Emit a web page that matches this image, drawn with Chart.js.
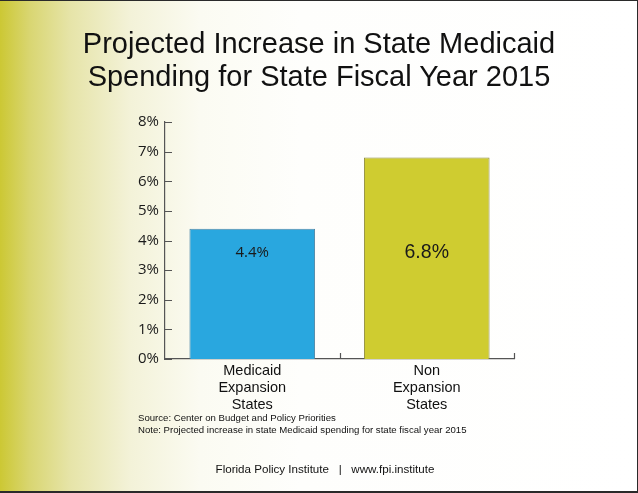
<!DOCTYPE html>
<html><head><meta charset="utf-8">
<script src="https://cdn.jsdelivr.net/npm/chart.js@4.4.1/dist/chart.umd.min.js"></script>
<style>
html,body{margin:0;padding:0;}
#wrap{position:relative;width:638px;height:493px;box-sizing:border-box;overflow:hidden;
 background:linear-gradient(to right,#ccc834 0px,#d9d672 30px,#e6e4a8 70px,#f3f2d8 130px,#fbfbf2 200px,#fefefc 300px,#ffffff 638px);
 border-top:1px solid #2a2a2a;border-right:1px solid #2a2a2a;border-bottom:2px solid #2a2a2a;}
canvas{position:absolute;left:0;top:0;}
.t{position:absolute;font-family:Arial,"Liberation Sans",sans-serif;color:#111;white-space:nowrap;}
#title{left:0;width:638px;top:26px;text-align:center;font-size:29px;line-height:33px;}
#src{left:138px;top:411px;font-size:9.6px;line-height:12px;color:#111;}
#foot{left:0;width:650px;top:461px;text-align:center;font-size:11.6px;color:#111;}
</style></head>
<body>
<div id="wrap">
<canvas id="c" width="638" height="493"></canvas>
<div class="t" id="title">Projected Increase in State Medicaid<br>Spending for State Fiscal Year 2015</div>
<div class="t" id="src">Source: Center on Budget and Policy Priorities<br>Note: Projected increase in state Medicaid spending for state fiscal year 2015</div>
<div class="t" id="foot">Florida Policy Institute &nbsp;&nbsp;|&nbsp;&nbsp; www.fpi.institute</div>
</div>
<script>
const categories = [["Medicaid","Expansion","States"],["Non","Expansion","States"]];
const values = [4.4, 6.8];
const valueLabels = ["4.4%", "6.8%"];
const yTicks = [0,1,2,3,4,5,6,7,8];
const barColors = ["#29a7df", "#cfcc30"];
const barBorders = ["#4f86a6", "#8d8b40"];

const AXIS = "#555555";

const inwardTicks = {
  id: "inwardTicks",
  afterDraw(chart) {
    const ctx = chart.ctx, x = chart.scales.x, y = chart.scales.y;
    ctx.save();
    ctx.strokeStyle = AXIS; ctx.lineWidth = 1.2;
    ctx.beginPath();
    yTicks.forEach(v => { const p = Math.round(y.getPixelForValue(v)) + 0.5; ctx.moveTo(x.left, p); ctx.lineTo(x.left + 7, p); });
    for (let i = 0; i < categories.length; i++) {
      const p = Math.round(x.getPixelForValue(i + 0.5)) + 0.5;
      ctx.moveTo(p, y.bottom); ctx.lineTo(p, y.bottom - 6);
    }
    ctx.stroke();
    ctx.restore();
  }
};

const barLabels = {
  id: "barLabels",
  afterDatasetsDraw(chart) {
    const ctx = chart.ctx, y = chart.scales.y;
    const meta = chart.getDatasetMeta(0);
    ctx.save();
    ctx.fillStyle = "#1a1a1a"; ctx.textAlign = "center"; ctx.textBaseline = "middle";
    meta.data.forEach((bar, i) => {
      ctx.font = i === 0 ? '15px "Open Sans", sans-serif' : '19.5px Arial, "Liberation Sans", sans-serif';
      ctx.fillText(valueLabels[i], bar.x, y.getPixelForValue(3.6));
    });
    ctx.restore();
  }
};

new Chart(document.getElementById("c"), {
  type: "bar",
  data: {
    labels: categories,
    datasets: [{
      data: values,
      backgroundColor: barColors,
      borderColor: barBorders,
      borderWidth: 1,
      barPercentage: 0.72,
      categoryPercentage: 1.0
    }]
  },
  options: {
    responsive: false,
    animation: false,
    layout: { padding: { top: 121, right: 124, bottom: 0, left: 0 } },
    plugins: { legend: { display: false }, tooltip: { enabled: false }, title: { display: false } },
    scales: {
      x: {
        grid: { display: false },
        border: { display: true, color: AXIS, width: 1.2 },
        ticks: { color: "#111", font: { family: 'Arial, "Liberation Sans", sans-serif', size: 14.5, lineHeight: 1.17 }, padding: -4, maxRotation: 0, autoSkip: false },
        afterFit(s) { s.height = 135; }
      },
      y: {
        min: 0, max: 8,
        afterBuildTicks(s) { s.ticks = yTicks.map(v => ({ value: v })); },
        grid: { display: false },
        border: { display: true, color: AXIS, width: 1.2 },
        ticks: { color: "#1a1a1a", font: { family: '"Open Sans", sans-serif', size: 15 }, padding: -2, callback: v => v + "%" },
        afterFit(s) { s.width = 165; }
      }
    }
  },
  plugins: [inwardTicks, barLabels]
});
</script>
</body></html>
